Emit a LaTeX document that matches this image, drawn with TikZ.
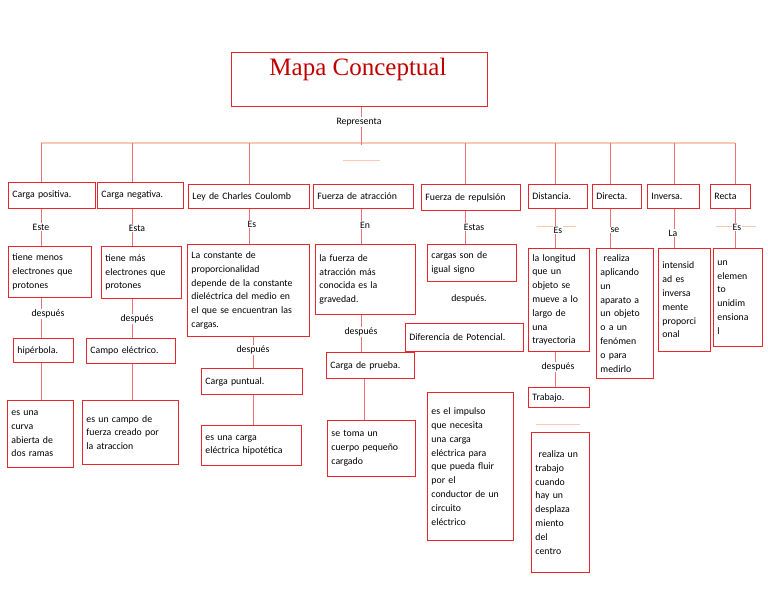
\documentclass[tikz,border=0pt]{standalone}
\usepackage{fontspec}
\setmainfont{Carlito}
\newfontfamily\titlefont{Liberation Serif}
\definecolor{bred}{HTML}{E8262E}
\definecolor{lred}{HTML}{F07078}
\definecolor{lor}{HTML}{F8C8B0}
\definecolor{tred}{HTML}{C00000}
\begin{document}
\begin{tikzpicture}[x=1pt,y=-1pt,
  bx/.style={draw=bred,line width=0.9pt,anchor=north west,inner sep=4pt,align=left,font=\fontsize{9.8}{13.8}\selectfont},
  lb/.style={fill=white,inner sep=1pt,font=\fontsize{9.8}{12}\selectfont},
  cn/.style={draw=lred,line width=0.9pt}]
\useasboundingbox[fill=white] (0,0) rectangle (768,594);
\newcommand\bxat[6]{\node[bx,minimum width=#4,minimum height=#5,text width=#4-8pt] (#1) at (#2,#3) {#6};}
% title
\node[draw=bred,line width=0.9pt,anchor=north west,minimum width=256,minimum height=54] (t) at (231,52) {};
\node[font=\titlefont\fontsize{25}{28}\selectfont,text=tred] at (358,69) {Mapa Conceptual};
\coordinate (h1) at (41,143); \coordinate (h2) at (735,143);
\draw[lor,line width=1.2pt] (h1) -- (h2);
\coordinate (rp) at (361,145);
\draw[cn] (t.south -| rp) -- (rp);
\node[lb] at (359,122) {Representa};
\coordinate (s1) at (343,160); \coordinate (s2) at (380,160);
\draw[lor,line width=1pt] (s1) -- (s2);
% short light lines near labels
\coordinate (e1) at (537,226); \coordinate (e2) at (576,226);
\draw[lor,line width=1pt] (e1) -- (e2);
\coordinate (f1) at (716,226); \coordinate (f2) at (756,226);
\draw[lor,line width=1pt] (f1) -- (f2);
\coordinate (g1) at (536,424); \coordinate (g2) at (580,424);
\draw[lor,line width=1pt] (g1) -- (g2);
% row1
\bxat{a1}{8}{182}{87}{26}{Carga positiva.}
\bxat{a2}{97}{182}{86}{26}{Carga negativa.}
\bxat{a3}{188}{184}{121}{24}{Ley de Charles Coulomb}
\bxat{a4}{313}{184}{100}{24}{Fuerza de atracción}
\bxat{a5}{421}{184}{99}{26}{Fuerza de repulsión}
\bxat{a6}{528}{184}{59}{24}{Distancia.}
\bxat{a7}{592}{184}{49}{24}{Directa.}
\bxat{a8}{647}{184}{52}{24}{Inversa.}
\bxat{a9}{710}{184}{40}{24}{Recta}
\foreach \n/\x in {a1/41,a2/132,a3/249,a5/465,a6/555,a7/610,a8/674,a9/735}{
  \coordinate (u\n) at (\x,143);
  \draw[cn] (u\n) -- (u\n |- \n.north);}
% row2
\bxat{b1}{8}{246}{83}{51}{tiene menos\\electrones que\\protones}
\bxat{b2}{101}{246}{80}{52}{tiene más\\electrones que\\protones}
\bxat{b3}{187}{244}{122}{92}{La constante de\\proporcionalidad\\depende de la constante\\dieléctrica del medio en\\el que se encuentran las\\cargas.}
\bxat{b4}{315}{244}{100}{70}{la fuerza de\\atracción más\\conocida es la\\gravedad.}
\bxat{b5}{427}{244}{89}{37}{cargas son de\\igual signo}
\bxat{b6}{528}{248}{61}{103}{la longitud\\que un\\objeto se\\mueve a lo\\largo de\\una\\trayectoria}
\bxat{b7}{596}{248}{57}{130}{~realiza\\aplicando\\un\\aparato a\\un objeto\\o a un\\fenómen\\o para\\medirlo}
\bxat{b8}{658}{248}{52}{103}{intensid\\ad es\\inversa\\mente\\proporci\\onal}
\bxat{b9}{713}{248}{49}{98}{un\\elemen\\to\\unidim\\ensiona\\l}
% row3
\bxat{c1}{13}{338}{60}{24}{hipérbola.}
\bxat{c2}{86}{338}{89}{25}{Campo eléctrico.}
\bxat{c3}{201}{368}{101}{26}{Carga puntual.}
\bxat{c5}{405}{323}{118}{28}{Diferencia de Potencial.}
\bxat{c4}{326}{352}{88}{26}{Carga de prueba.}
\bxat{c6}{528}{387}{61}{20}{Trabajo.}
% row4
\bxat{d1}{7}{400}{66}{67}{es una\\curva\\abierta de\\dos ramas}
\bxat{d2}{82}{400}{96}{64}{es un campo de\\fuerza creado por\\la atraccion}
\bxat{d3}{201}{425}{100}{40}{es una carga\\eléctrica hipotética}
\bxat{d4}{327}{420}{88}{56}{se toma un\\cuerpo pequeño\\cargado}
\bxat{d5}{427}{392}{86}{148}{es el impulso\\que necesita\\una carga\\eléctrica para\\que pueda fluir\\por el\\conductor de un\\circuito\\eléctrico}
\bxat{d6}{531}{432}{58}{140}{~realiza un\\trabajo\\cuando\\hay un\\desplaza\\miento\\del\\centro}
% connectors
\foreach \p/\c/\x in {a1/b1/41,a2/b2/132,a3/b3/249,a4/b4/361,a5/b5/465,a6/b6/555,a7/b7/610,a8/b8/674,a9/b9/735,
  b1/c1/41,b2/c2/132,b3/c3/253,b4/c4/361,b6/c6/555,c1/d1/41,c2/d2/132,c3/d3/253,c4/d4/364}{
  \coordinate (v\p) at (\x,0);
  \draw[cn] (v\p |- \p.south) -- (v\p |- \c.north);}
% labels
\node[lb] at (41,227) {Este};
\node[lb] at (137,228) {Esta};
\node[lb] at (252,224) {Es};
\node[lb] at (365,225) {En};
\node[lb] at (474,227) {Estas};
\node[lb] at (558,230) {Es};
\node[lb] at (615,230) {se};
\node[lb] at (673,233) {La};
\node[lb] at (737,227) {Es};
\node[lb] at (48,314) {después};
\node[lb] at (137,319) {después};
\node[lb] at (253,350) {después};
\node[lb] at (361,332) {después};
\node[lb] at (469,299) {después.};
\node[lb] at (558,367) {después};
\end{tikzpicture}
\end{document}
